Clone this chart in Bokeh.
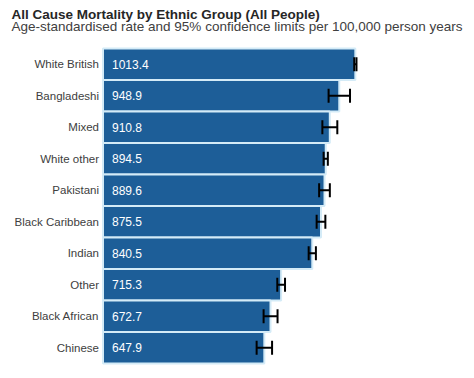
from bokeh.plotting import figure
from bokeh.models import ColumnDataSource, Whisker, TeeHead, Label, Range1d
from bokeh.core.properties import value
from bokeh.embed import file_html
from bokeh.resources import INLINE

groups = ["White British", "Bangladeshi", "Mixed", "White other", "Pakistani",
          "Black Caribbean", "Indian", "Other", "Black African", "Chinese"]
rates = [1013.4, 948.9, 910.8, 894.5, 889.6, 875.5, 840.5, 715.3, 672.7, 647.9]
lower = [1009, 906, 881, 886, 868, 858, 826, 700, 645, 617]
upper = [1018, 992, 941, 903, 911, 893, 855, 731, 701, 679]
rate_labels = ["%.1f" % r for r in rates]

title_text = "All Cause Mortality by Ethnic Group (All People)"
subtitle_text = "Age-standardised rate and 95% confidence limits per 100,000 person years"

FONT = "Liberation Sans"

# layout (pixels)
W, H = 466, 370
LEFT_PX = 102.5       # where the value axis zero lies
PX_PER_UNIT = 0.249
TOP_PX = 48           # space above the bars
BOTTOM_PX = 7
n = len(groups)
slot_px = (H - TOP_PX - BOTTOM_PX) / n

ypos = [n - 1 - i for i in range(n)]
src = ColumnDataSource(dict(y=ypos, g=groups, r=rates, lo=lower, hi=upper, lab=rate_labels))

p = figure(width=W, height=H, output_backend="svg", toolbar_location=None,
           x_axis_type=None, y_axis_type=None, title=None,
           x_range=Range1d(-LEFT_PX / PX_PER_UNIT, (W - LEFT_PX) / PX_PER_UNIT),
           y_range=Range1d(-0.5 - BOTTOM_PX / slot_px, n - 0.5 + TOP_PX / slot_px),
           min_border=0, min_border_left=0, min_border_right=0,
           min_border_top=0, min_border_bottom=0)

p.hbar(y="y", right="r", left=0, height=1.0, source=src,
       fill_color="#1d5e98", line_color="#d4ebf7", line_width=2)

p.text(x=0, y="y", text="lab", source=src, x_offset=9,
       text_color="white", text_font=value(FONT), text_font_size="12px",
       text_baseline="middle", text_align="left")

p.text(x=0, y="y", text="g", source=src, x_offset=-4,
       text_color="#404040", text_font=value(FONT), text_font_size="11.5px",
       text_baseline="middle", text_align="right")

w = Whisker(base="y", lower="lo", upper="hi", source=src, dimension="width",
            line_color="black", line_width=2, level="overlay",
            lower_head=TeeHead(size=14, line_color="black", line_width=2),
            upper_head=TeeHead(size=14, line_color="black", line_width=2))
p.add_layout(w)

p.xgrid.visible = False
p.ygrid.visible = False
p.outline_line_color = None

p.add_layout(Label(x=11, y=H - 14, x_units="screen", y_units="screen",
                   text=title_text, text_font=FONT, text_font_size="13.5px",
                   text_font_style="bold", text_color="#262626",
                   text_baseline="alphabetic", level="overlay"))
p.add_layout(Label(x=11, y=H - 26, x_units="screen", y_units="screen",
                   text=subtitle_text, text_font=FONT, text_font_size="13.5px",
                   text_font_style="normal", text_color="#404040",
                   text_baseline="alphabetic", level="overlay"))

open("out.html", "w").write(file_html(p, INLINE))
